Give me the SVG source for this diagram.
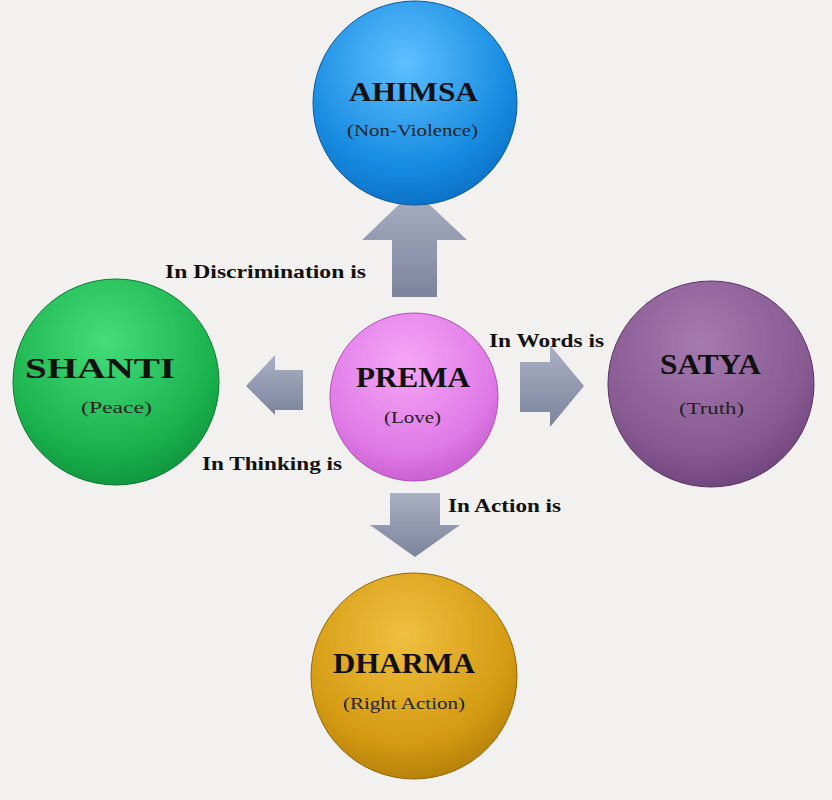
<svg xmlns="http://www.w3.org/2000/svg" width="832" height="800" viewBox="0 0 832 800">
<style>
.t{font-family:"Liberation Serif",serif;font-weight:bold;fill:#111}
.s{font-family:"Liberation Serif",serif;fill:#222;font-size:17px}
.l{font-family:"Liberation Serif",serif;font-weight:bold;fill:#111;font-size:19px}
.ar{fill:url(#ga);stroke:none}
</style>
<defs>
<radialGradient id="gb" cx="0.45" cy="0.3" r="0.75"><stop offset="0" stop-color="#5ec0ff"/><stop offset="0.7" stop-color="#168ae0"/><stop offset="1" stop-color="#0a6cc0"/></radialGradient>
<radialGradient id="gg" cx="0.45" cy="0.3" r="0.75"><stop offset="0" stop-color="#45dd7a"/><stop offset="0.7" stop-color="#1ab34e"/><stop offset="1" stop-color="#0e903a"/></radialGradient>
<radialGradient id="gp" cx="0.45" cy="0.3" r="0.75"><stop offset="0" stop-color="#f5a6f7"/><stop offset="0.7" stop-color="#e07ae6"/><stop offset="1" stop-color="#c45ccc"/></radialGradient>
<radialGradient id="gv" cx="0.45" cy="0.3" r="0.75"><stop offset="0" stop-color="#a57aae"/><stop offset="0.7" stop-color="#875a92"/><stop offset="1" stop-color="#6c4078"/></radialGradient>
<radialGradient id="gy" cx="0.45" cy="0.3" r="0.75"><stop offset="0" stop-color="#f0c040"/><stop offset="0.7" stop-color="#d49a12"/><stop offset="1" stop-color="#b07c08"/></radialGradient>
<linearGradient id="ga" x1="0" y1="0" x2="0" y2="1"><stop offset="0" stop-color="#aab0c4"/><stop offset="1" stop-color="#7c849c"/></linearGradient>
</defs>
<rect width="832" height="800" fill="#f2f1ef"/>
<g id="connectors">
<path class="ar" d="M392,297 L392,240 L362,240 L414,190 L467,240 L437,240 L437,297 Z"/>
<path class="ar" d="M303,370 L275,370 L275,355 L246,386 L275,415 L275,410 L303,410 Z"/>
<path class="ar" d="M520,362 L550,362 L550,345 L584,386 L550,427 L550,412 L520,412 Z"/>
<path class="ar" d="M390,493 L440,493 L440,525 L460,525 L415,557 L370,525 L390,525 Z"/>
<text class="l" x="165" y="278" textLength="201" lengthAdjust="spacingAndGlyphs">In Discrimination is</text>
<text class="l" x="489" y="347" textLength="115" lengthAdjust="spacingAndGlyphs">In Words is</text>
<text class="l" x="202" y="470" textLength="140" lengthAdjust="spacingAndGlyphs">In Thinking is</text>
<text class="l" x="448" y="512" textLength="113" lengthAdjust="spacingAndGlyphs">In Action is</text>
</g>
<g id="ahimsa"><circle cx="415" cy="103" r="102" fill="url(#gb)" stroke="#0a5aa0" stroke-width="1"/><text class="t" x="349" y="101" font-size="27" textLength="129" lengthAdjust="spacingAndGlyphs">AHIMSA</text><text class="s" x="347" y="136" textLength="131" lengthAdjust="spacingAndGlyphs">(Non-Violence)</text></g>
<g id="shanti"><circle cx="116" cy="382" r="103" fill="url(#gg)" stroke="#0c7a30" stroke-width="1"/><text class="t" x="25" y="378" font-size="29" textLength="150" lengthAdjust="spacingAndGlyphs">SHANTI</text><text class="s" x="81" y="413" textLength="71" lengthAdjust="spacingAndGlyphs">(Peace)</text></g>
<g id="prema"><circle cx="414" cy="397" r="84" fill="url(#gp)" stroke="#b050b8" stroke-width="1"/><text class="t" x="356" y="387" font-size="29" textLength="114" lengthAdjust="spacingAndGlyphs">PREMA</text><text class="s" x="384" y="423" textLength="57" lengthAdjust="spacingAndGlyphs">(Love)</text></g>
<g id="satya"><circle cx="711" cy="384" r="103" fill="url(#gv)" stroke="#5a3466" stroke-width="1"/><text class="t" x="660" y="374" font-size="29" textLength="101" lengthAdjust="spacingAndGlyphs">SATYA</text><text class="s" x="679" y="414" textLength="65" lengthAdjust="spacingAndGlyphs">(Truth)</text></g>
<g id="dharma"><circle cx="414" cy="676" r="103" fill="url(#gy)" stroke="#946808" stroke-width="1"/><text class="t" x="333" y="673" font-size="29" textLength="142" lengthAdjust="spacingAndGlyphs">DHARMA</text><text class="s" x="343" y="709" textLength="122" lengthAdjust="spacingAndGlyphs">(Right Action)</text></g>
</svg>
